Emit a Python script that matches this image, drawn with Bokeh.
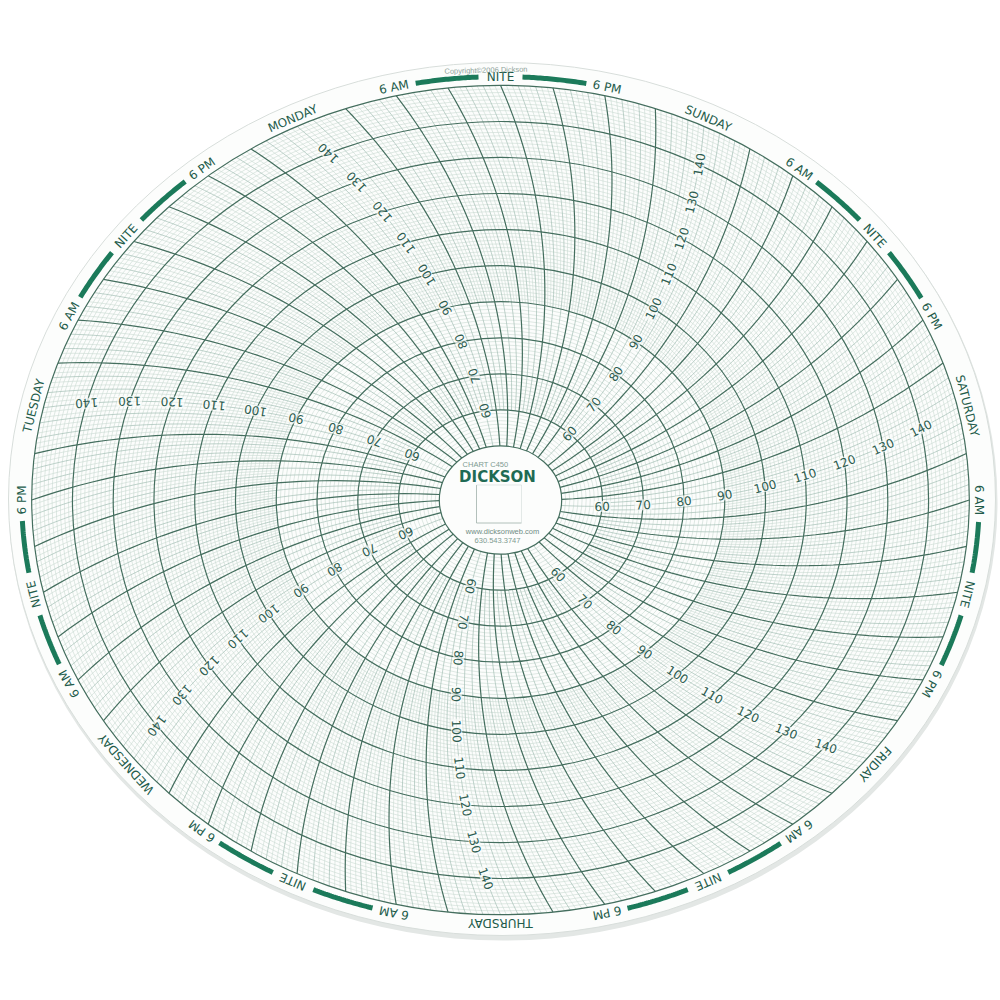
import numpy as np
from bokeh.plotting import figure
from bokeh.models import Range1d
from bokeh.core.properties import value
from bokeh.embed import file_html
from bokeh.resources import INLINE

# ---------------- chart content ----------------
days = ["THURSDAY", "FRIDAY", "SATURDAY", "SUNDAY", "MONDAY", "TUESDAY", "WEDNESDAY"]
time_marks = ["6 PM", "NITE", "6 AM"]
time_mark_hours = [6, 12, 18]          # hours after each day's noon
value_ticks = [60, 70, 80, 90, 100, 110, 120, 130, 140]
value_min, value_max = 50, 150
major_value_step = 10
hours_per_chart = 168
major_hour_step = 3
lines_per_hour = 3                     # 20 minute fine lines
chart_name = "CHART  C450"
brand = "DICKSON"
web = "www.dicksonweb.com"
phone = "630.543.3747"
copyright_txt = "Copyright\u00a92006 Dickson"

# ---------------- geometry (page pixels, y up) ----------------
PCX, PCY = 501.5, 501.5      # paper centre
CX, CY = 500.0, 500.5        # grid centre
AX, BY = 493.5, 436.5
R_IN, R_OUT, R_LAB = 0.124, 0.95, 0.97
ARM = 1.3
THU_NOON_DEG = 270.0

FONT = value("DejaVu Sans")
SMALL_FONT = value("Liberation Sans")
PAPER = "#fcfdfc"
MAJOR = "#446e5e"
HOUR = "#a3bfb4"
FINE = "#c9dad2"
TXT = "#225b4a"
BAR = "#1b7a5a"


def rad_of(v):
    return R_IN + (v - value_min) / (value_max - value_min) * (R_OUT - R_IN)


def alpha(r):
    return np.arccos(r / (2 * ARM))


def theta_of_hour(h):
    return np.deg2rad(THU_NOON_DEG + h * 360.0 / hours_per_chart)


def chart_xy(r, ang):
    return CX + AX * r * np.cos(ang), CY + BY * r * np.sin(ang)


def line_ang(h, r):
    return theta_of_hour(h) - (alpha(r) - alpha(R_OUT))


def time_line(h, r0, r1, n=36):
    r = np.linspace(r0, r1, n)
    return chart_xy(r, line_ang(h, r))


p = figure(width=1000, height=1000, x_range=Range1d(0, 1000), y_range=Range1d(0, 1000),
           output_backend="svg", toolbar_location=None, min_border=0)
p.axis.visible = False
p.grid.visible = False
p.outline_line_color = None
p.background_fill_color = "white"
p.border_fill_color = "white"

# paper disc
p.ellipse(x=[PCX + 1], y=[PCY - 3], width=[2 * AX + 2], height=[2 * BY + 4],
          fill_color="#e3e7e5", line_color=None)
p.ellipse(x=[PCX], y=[PCY], width=[2 * AX], height=[2 * BY],
          fill_color=PAPER, line_color="#d8dedb", line_width=1)

# concentric value circles
vals = np.arange(value_min, value_max + 1)
fine_v = [v for v in vals if v % major_value_step != 0]
major_v = [v for v in vals if v % major_value_step == 0]
rf = np.array([rad_of(v) for v in fine_v])
rm = np.array([rad_of(v) for v in major_v])
p.ellipse(x=[CX] * len(rf), y=[CY] * len(rf), width=2 * AX * rf, height=2 * BY * rf,
          fill_color=None, line_color=FINE, line_width=0.6)

# time lines (the noon line of each day carries the value labels instead)
fx, fy, hx, hy, mx, my = [], [], [], [], [], []
for k in range(hours_per_chart * lines_per_hour):
    h = k / lines_per_hour
    is_noon = k % (24 * lines_per_hour) == 0
    if k % (major_hour_step * lines_per_hour) == 0 and not is_noon:
        xs, ys = time_line(h, rad_of(value_min), R_OUT)
        mx.append(list(xs)); my.append(list(ys))
    elif k % lines_per_hour == 0:
        xs, ys = time_line(h, rad_of(60) if not is_noon else rad_of(value_min), R_OUT)
        hx.append(list(xs)); hy.append(list(ys))
    else:
        xs, ys = time_line(h, rad_of(90), R_OUT, n=24)
        fx.append(list(xs)); fy.append(list(ys))
p.multi_line(fx, fy, line_color=FINE, line_width=0.6)
p.multi_line(hx, hy, line_color=HOUR, line_width=0.7)
p.ellipse(x=[CX] * len(rm), y=[CY] * len(rm), width=2 * AX * rm, height=2 * BY * rm,
          fill_color=None, line_color=MAJOR, line_width=1.2)
p.multi_line(mx, my, line_color=MAJOR, line_width=1.2)

# value labels along each day's noon line
lx, ly, lt, la = [], [], [], []
for i in range(len(days)):
    h = 24 * i
    for v in value_ticks:
        r = rad_of(v)
        x0, y0 = chart_xy(r, line_ang(h, r))
        xa, ya = chart_xy(r - 0.005, line_ang(h, r - 0.005))
        xb, yb = chart_xy(r + 0.005, line_ang(h, r + 0.005))
        lx.append(x0); ly.append(y0); lt.append(str(v))
        la.append(np.arctan2(yb - ya, xb - xa))
p.text(lx, ly, text=lt, angle=la, text_font=FONT, text_font_size="12px",
       text_color="#2c5c4f", text_align="center", text_baseline="middle",
       background_fill_color=PAPER, background_fill_alpha=0.7, padding=1)


def ring_pos(h, r=R_LAB):
    th = theta_of_hour(h)
    x, y = chart_xy(r, th)
    ang = np.arctan2(-BY * np.cos(th), AX * np.sin(th))
    return x, y, ang


# outer ring labels: day names at noon, 6 PM / NITE / 6 AM
rx_, ry_, rt_, ra_ = [], [], [], []
for i, d in enumerate(days):
    x, y, a = ring_pos(24 * i)
    rx_.append(x); ry_.append(y); rt_.append(d); ra_.append(a)
    for lab, hh in zip(time_marks, time_mark_hours):
        x, y, a = ring_pos(24 * i + hh)
        rx_.append(x); ry_.append(y); rt_.append(lab); ra_.append(a)
p.text(rx_, ry_, text=rt_, angle=ra_, text_font=FONT, text_font_size="12px",
       text_color=TXT, text_align="center", text_baseline="middle")


# night bars
def ang_gap(h, px):
    th = theta_of_hour(h)
    speed = R_LAB * np.hypot(AX * np.sin(th), BY * np.cos(th))
    return px / speed


bx, by = [], []
for i in range(len(days)):
    h6p, hn, h6a = 24 * i + 6, 24 * i + 12, 24 * i + 18
    segs = [(theta_of_hour(h6p) + ang_gap(h6p, 21), theta_of_hour(hn) - ang_gap(hn, 22)),
            (theta_of_hour(hn) + ang_gap(hn, 22), theta_of_hour(h6a) - ang_gap(h6a, 22))]
    for a0, a1 in segs:
        t = np.linspace(a0, a1, 30)
        xs, ys = chart_xy(R_LAB, t)
        bx.append(list(xs)); by.append(list(ys))
p.multi_line(bx, by, line_color=BAR, line_width=5, line_cap="butt")

# copyright (just above the top NITE label)
x, y, a = ring_pos(24 * 3 + 12 + 0.8, r=0.985)
p.text([x], [y], text=[copyright_txt], angle=[a], text_font=SMALL_FONT,
       text_font_size="7.5px", text_color="#8fa39b", text_align="center",
       text_baseline="middle")

# centre block
p.text([CX - 14], [CY + 36], text=[chart_name], text_font=SMALL_FONT, text_font_size="7.5px",
       text_color="#7f9c92", text_align="center", text_baseline="middle")
p.text([CX - 3], [CY + 23], text=[brand], text_font=value("DejaVu Sans"),
       text_font_size="15px", text_font_style="bold", text_color="#1f6a54",
       text_align="center", text_baseline="middle")
p.multi_line([[CX - 24, CX - 24, CX + 21]], [[CY + 15, CY - 23, CY - 23]],
             line_color="#9fb0a9", line_width=0.8)
p.multi_line([[CX - 24, CX + 21, CX + 21]], [[CY + 15, CY + 15, CY - 23]],
             line_color="#d2dcd8", line_width=0.6)
p.text([CX + 2], [CY - 31], text=[web], text_font=SMALL_FONT, text_font_size="7.5px",
       text_color="#6f8c83", text_align="center", text_baseline="middle")
p.text([CX - 3], [CY - 40], text=[phone], text_font=SMALL_FONT, text_font_size="7.5px",
       text_color="#7f9c92", text_align="center", text_baseline="middle")

open("out.html", "w").write(file_html(p, INLINE))
